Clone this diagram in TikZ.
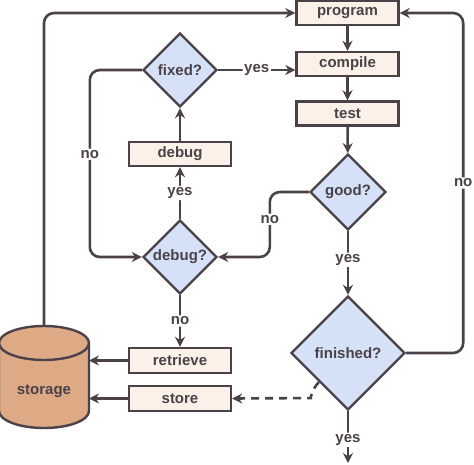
\documentclass[tikz,border=0pt]{standalone}
\usepackage{fontspec}
\setmainfont{Liberation Sans}
\usetikzlibrary{shapes.geometric,arrows.meta,calc}

\definecolor{ink}{HTML}{4A4248}
\definecolor{boxfill}{HTML}{FCF1E8}
\definecolor{decfill}{HTML}{D5E1F6}
\definecolor{drumfill}{HTML}{DEAA86}

\tikzset{
  every node/.style={font=\fontsize{15}{18}\selectfont\bfseries, text=ink},
  stepbox/.style={draw=ink, line width=2.4pt, fill=boxfill,
    minimum width=102pt, minimum height=24pt, inner sep=0pt},
  decision/.style={diamond, draw=ink, line width=2.4pt, fill=decfill,
    inner sep=0pt, aspect=1},
  flow/.style={draw=ink, line width=2.6pt,
    -{Stealth[length=10pt,width=10pt]}, rounded corners=10pt},
  tag/.style={fill=white, inner sep=1.5pt},
}

\begin{document}
\begin{tikzpicture}[x=1pt,y=-1pt]
\useasboundingbox (0,0) rectangle (474,464);

% main line of work
\node[stepbox] (program) at (347.5,13) {program};
\node[stepbox] (compile) at (347.5,64) {compile};
\node[stepbox] (test) at (347.5,113.5) {test};
\node[decision, minimum size=76pt] (good) at (348,192) {good?};
\node[decision, minimum size=114pt] (finished) at (348,353) {finished?};

% debugging loop
\node[decision, minimum size=74pt] (fixed) at (180,70) {fixed?};
\node[stepbox] (debug) at (180,154) {debug};
\node[decision, minimum size=74pt] (dbq) at (180,257) {debug?};
\node[stepbox, minimum height=25pt] (retrieve) at (180,360.5) {retrieve};
\node[stepbox, minimum height=25pt] (store) at (180,398.5) {store};

% storage drum
\node[minimum width=90pt, minimum height=102pt, inner sep=0pt, outer sep=0pt] (drum) at (44,377) {};
\filldraw[fill=drumfill, draw=ink, line width=2.4pt]
  (-1,343) -- (-1,411) arc[start angle=180, end angle=360, x radius=45pt, y radius=17pt]
  -- (89,343) arc[start angle=0, end angle=180, x radius=45pt, y radius=17pt] -- cycle;
\draw[ink, line width=2.4pt]
  (-1,343) arc[start angle=180, end angle=360, x radius=45pt, y radius=17pt];
\node (storage) at (44,391) {storage};

% bends of the loop-back lines
\coordinate (done) at (348,463);
\coordinate (goodbend) at ($(good.west)+(-39,0)$);
\coordinate (fixbend) at ($(fixed.west)+(-52,0)$);
\coordinate (finbend) at ($(finished.east)+(57,0)$);

% connectors
\draw[flow] (drum.north) |- (program.west);
\draw[flow] (program) -- (compile);
\draw[flow] (compile) -- (test);
\draw[flow] (test) -- (good);
\draw[flow] (good) -- node[tag, pos=0.45] {yes} (finished);
\draw[flow] (finished) -- node[tag, pos=0.55] {yes} (done);
\draw[flow] (finished.east) -- (finbend)
  -- node[tag, pos=0.5] {no} (finbend |- program.east) -- (program.east);
\draw[flow] (good.west) -- (goodbend)
  -- node[tag, pos=0.42] {no} (goodbend |- dbq.east) -- (dbq.east);
\draw[flow] (fixed.east) -- node[tag] {yes} (fixed.east -| compile.west);
\draw[flow] (fixed.west) -- (fixbend)
  -- node[tag, pos=0.45] {no} (fixbend |- dbq.west) -- (dbq.west);
\draw[flow] (dbq) -- node[tag] {yes} (debug);
\draw[flow] (debug) -- (fixed);
\draw[flow] (dbq) -- node[tag] {no} (retrieve);
\draw[flow] (retrieve.west) -- (retrieve.west -| drum.east);
\draw[flow] (store.west) -- (store.west -| drum.east);
\draw[flow, dash pattern=on 8pt off 6pt] (finished.south west)
  to[out=-135, in=0] ++(-18,16) -- (store.east);
\end{tikzpicture}
\end{document}
